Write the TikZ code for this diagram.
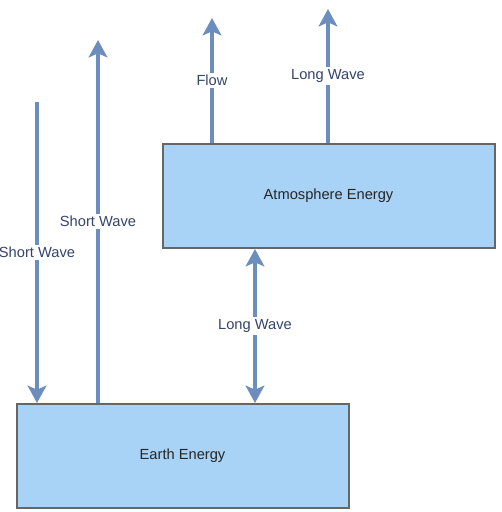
\documentclass[tikz,border=0pt]{standalone}
\usepackage{fontspec}
\setmainfont{Liberation Sans}
\usetikzlibrary{arrows.meta,positioning}
\definecolor{boxfill}{HTML}{A8D2F6}
\definecolor{boxline}{HTML}{666666}
\definecolor{waveblue}{HTML}{6C8EBF}
\definecolor{labeltext}{HTML}{34446A}
\tikzstyle{energybox} = [rectangle, minimum width=249pt, minimum height=78pt, text centered, draw=boxline, line width=1.5pt, fill=boxfill, text=black!85, font=\fontsize{11}{13}\selectfont]
\tikzstyle{wave} = [draw=waveblue, line width=3pt, -{Stealth[length=13pt,width=14pt,inset=3pt]}]
\tikzstyle{wavelabel} = [fill=white, inner sep=1.5pt, text=labeltext, font=\fontsize{11}{13}\selectfont]

\begin{document}
\begin{tikzpicture}[x=0.75pt, y=-0.75pt]
\useasboundingbox (0,0) rectangle (502,512);
\node (earth) [energybox] at (182.5,456) {Earth Energy};
\node (atmos) [energybox] at (328.5,196) {Atmosphere Energy};

\coordinate (swin) at (37,102);
\coordinate (swout) at (98,40);
\coordinate (flowtop) at (212,18);
\coordinate (lwtop) at (328,9);
\coordinate (lwmid) at (255,326);

\draw [wave] (swin) -- node [wavelabel] {Short Wave} (swin |- earth.north);
\draw [wave] (earth.north -| swout) -- node [wavelabel] {Short Wave} (swout);
\draw [wave] (atmos.north -| flowtop) -- node [wavelabel] {Flow} (flowtop);
\draw [wave] (atmos.north -| lwtop) -- node [wavelabel] {Long Wave} (lwtop);
\draw [wave, {Stealth[length=13pt,width=14pt,inset=3pt]}-{Stealth[length=13pt,width=14pt,inset=3pt]}] (atmos.south -| lwmid) -- node [wavelabel] {Long Wave} (earth.north -| lwmid);
\end{tikzpicture}
\end{document}
